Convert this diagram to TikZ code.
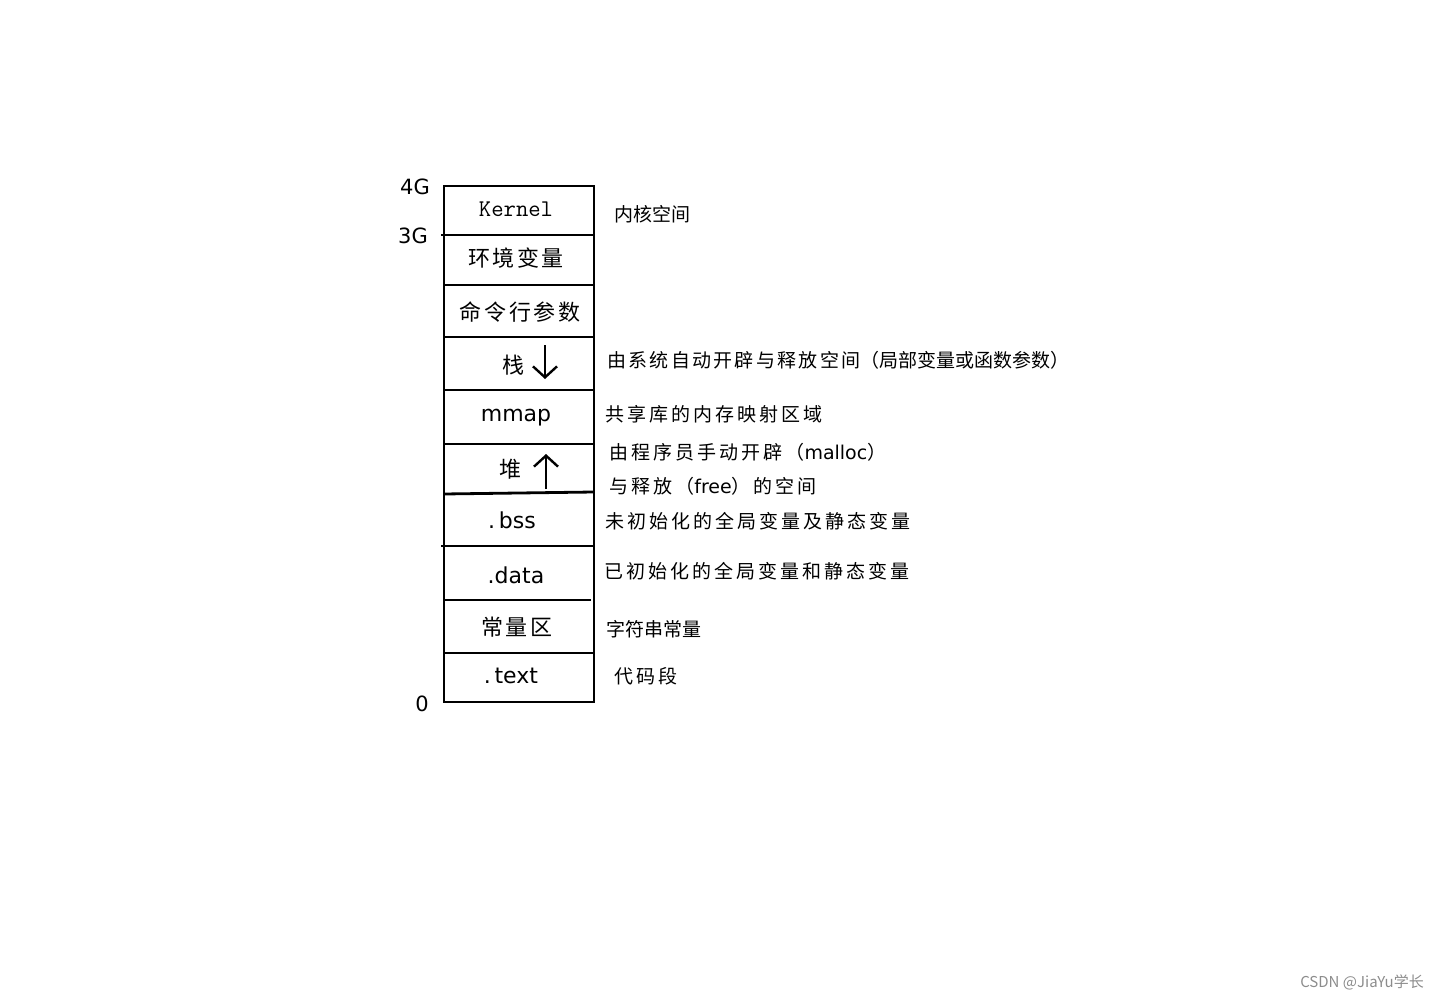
\documentclass[tikz,border=0pt]{standalone}
\usepackage{fontspec}
\setmainfont{DejaVu Sans}
\newfontfamily\cjk{Noto Sans CJK SC}
\newfontfamily\cjksp{Noto Sans CJK SC}[LetterSpace=12]
\newfontfamily\cjkwide{Noto Sans CJK SC}[LetterSpace=16]
\newfontfamily\lat{DejaVu Sans}
\usetikzlibrary{arrows.meta}
\tikzset{
  seg/.style={line width=2.8pt, black},
  celltxt/.style={inner sep=0pt, font=\fontsize{22}{26}\selectfont},
  rlabel/.style={anchor=west, inner sep=0pt, font=\fontsize{19}{23}\selectfont},
  axis/.style={inner sep=0pt, font=\lat\fontsize{21}{25}\selectfont},
  growarrow/.style={line width=2.4pt, -{Straight Barb[length=11pt,width=24pt,line width=2.4pt]}},
}
\begin{document}
\begin{tikzpicture}[x=1pt,y=-1pt]
\useasboundingbox (0,0) rectangle (1440,1000);
% outer column
\draw[seg] (444,186) rectangle (594,702);
\draw[seg] (441,235) -- (594,235);
\draw[seg] (444,285) -- (594,285);
\draw[seg] (444,337) -- (594,337);
\draw[seg] (444,390) -- (594,390);
\draw[seg] (444,444) -- (594,444);
\draw[seg] (444,494) -- (594,492);
\draw[seg] (441,546) -- (594,546);
\draw[seg] (444,600) -- (591,600);
\draw[seg] (444,653) -- (594,653);
% axis labels
\node[axis] (g4) at (415,187) {4G};
\node[axis] (g3) at (413,236) {3G};
\node[axis] (g0) at (422,704) {0};
% cell texts
\node[celltxt, font=\ttfamily\fontsize{24}{27}\selectfont] (kernel) at (516,209) {Kernel};
\node[celltxt] (env) at (516,258) {\cjksp 环境变量};
\node[celltxt] (args) at (520,312) {\cjksp 命令行参数};
\node[celltxt] (stack) at (513,365) {\cjk 栈};
\node[celltxt, font=\lat\fontsize{22}{26}\selectfont] (mmap) at (516,418) {mmap};
\node[celltxt] (heap) at (510,469) {\cjk 堆};
\node[celltxt, font=\lat\fontsize{22}{26}\selectfont] (bss) at (512,520) {.\,bss};
\node[celltxt, font=\lat\fontsize{22}{26}\selectfont] (data) at (516,575) {.data};
\node[celltxt] (const) at (517,627) {\cjksp 常量区};
\node[celltxt, font=\lat\fontsize{22}{26}\selectfont] (text) at (511,676) {.\,text};
% growth arrows
\coordinate (sa1) at (545,345);
\coordinate (sa2) at (545,379);
\coordinate (ha1) at (546,489);
\coordinate (ha2) at (546,454);
\draw[growarrow] (sa1) -- (sa2);
\draw[growarrow] (ha1) -- (ha2);
% right labels
\node[rlabel] (l1) at (614,214) {\cjk 内核空间};
\node[rlabel] (l2) at (607,360) {\cjksp 由系统自动开辟与释放空间{\cjk （局部变量或函数参数）}};
\node[rlabel] (l3) at (605,414) {\cjkwide 共享库的内存映射区域};
\node[rlabel] (l4) at (609,452) {\cjkwide 由程序员手动开辟（{\lat malloc}）};
\node[rlabel] (l5) at (609,486) {\cjkwide 与释放（{\lat free}）的空间};
\node[rlabel] (l6) at (605,521) {\cjkwide 未初始化的全局变量及静态变量};
\node[rlabel] (l7) at (604,571) {\cjkwide 已初始化的全局变量和静态变量};
\node[rlabel] (l8) at (606,629) {\cjk 字符串常量};
\node[rlabel] (l9) at (614,676) {\cjkwide 代码段};
% watermark
\node[anchor=east, inner sep=0pt, text=black!45, font=\cjk\fontsize{15}{18}\selectfont] (wm) at (1424,982) {CSDN @JiaYu学长};
\end{tikzpicture}
\end{document}
